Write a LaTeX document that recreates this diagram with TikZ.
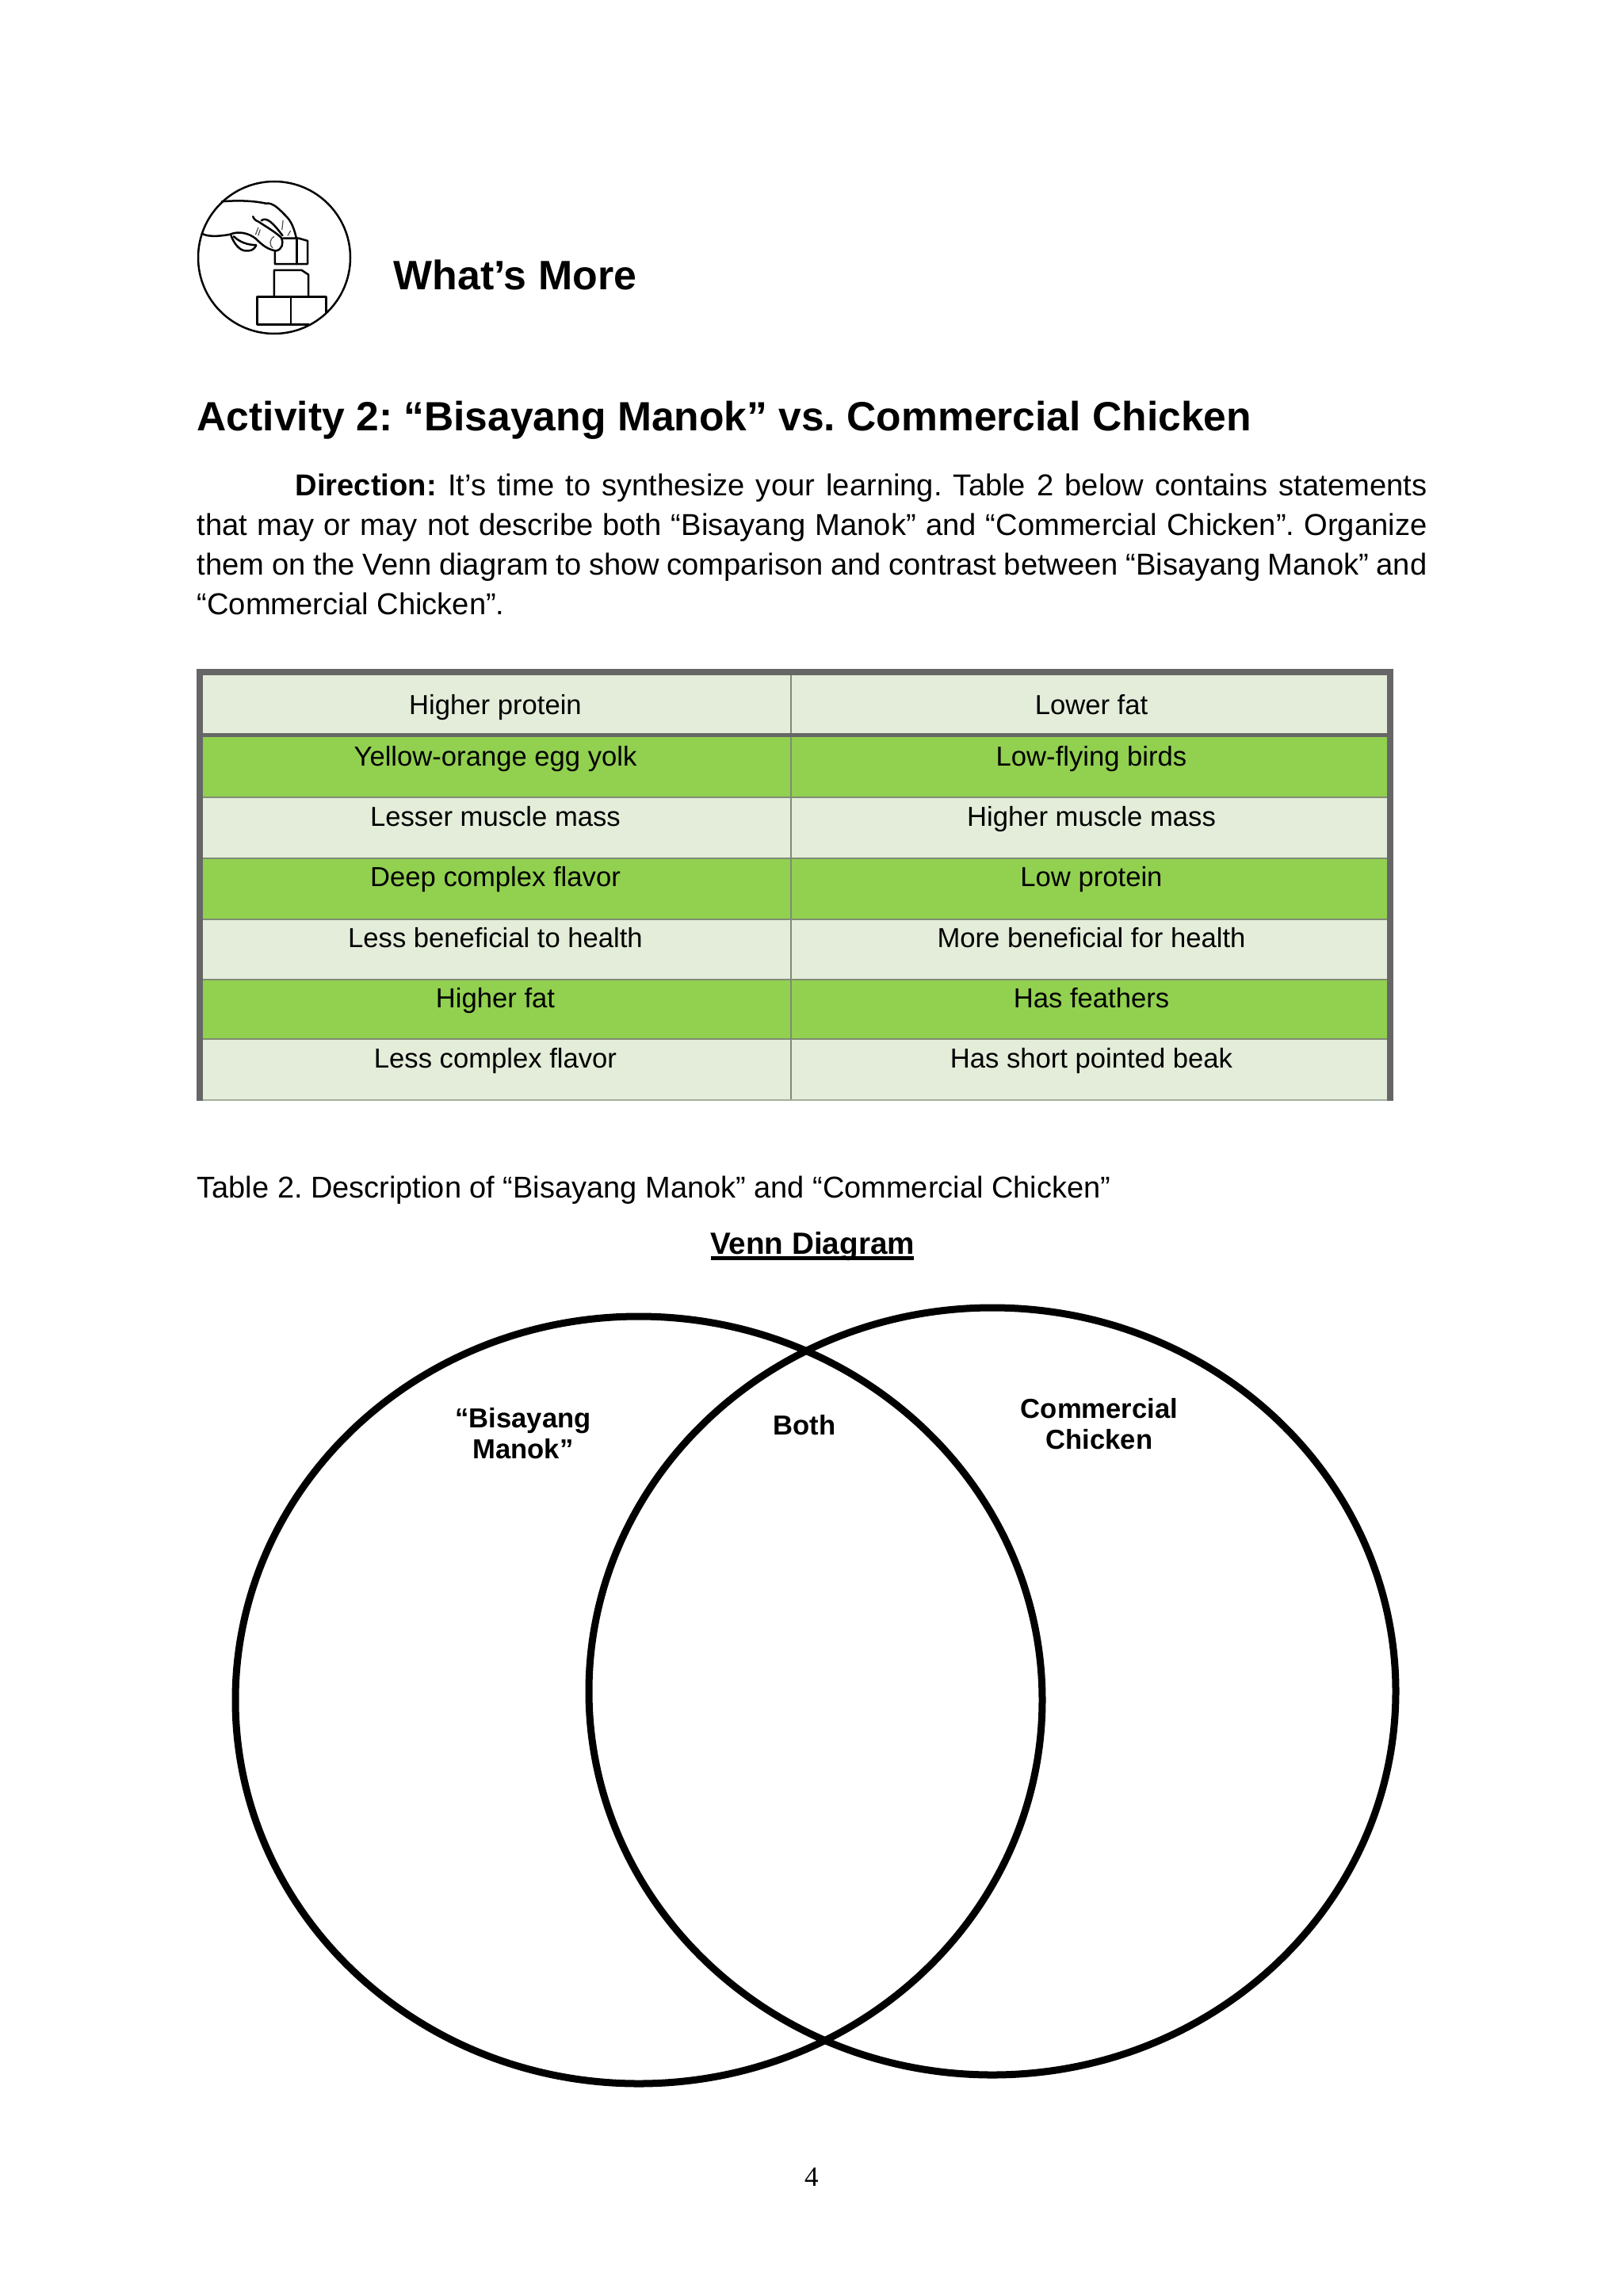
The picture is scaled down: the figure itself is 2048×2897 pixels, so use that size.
\documentclass[tikz,border=0pt]{standalone}
\usepackage{fontspec}
\setmainfont{Liberation Sans}
\newfontfamily\pagenumfont{Liberation Serif}
\definecolor{lightrow}{HTML}{E3EDD9}
\definecolor{darkrow}{HTML}{92D050}
\definecolor{tborder}{HTML}{666666}
\definecolor{tline}{HTML}{7F8C75}
\newcommand{\fs}[1]{\frenchspacing\fontsize{#1pt}{1.2\dimexpr#1pt\relax}\selectfont}
\tikzset{
  x=0.01cm,y=-0.01cm,
  celltext/.style={anchor=base,inner sep=0pt,font=\fs{9.85}},
  venntext/.style={anchor=base,inner sep=0pt,align=center,font=\fs{9.85}\bfseries},
  venncircle/.style={draw=black,line width=0.09cm},
  icon/.style={draw=black,line width=0.025cm,line join=round,line cap=round},
  iconthin/.style={draw=black!70,line width=0.012cm,line cap=round},
}
\begin{document}
\begin{tikzpicture}
\useasboundingbox (0,0) rectangle (2048,2897);
\fill[white] (0,0) rectangle (2048,2897);
% icon
\draw[icon] (346,325) circle [x radius=96,y radius=96];
\begin{scope}[shift={(220,210)},x=0.003333cm,y=-0.003333cm]
\draw[icon] (180,133) .. controls (240,128) and (300,130) .. (345,140) .. controls (375,135) and (400,165) .. (425,190) .. controls (445,210) and (455,240) .. (462,270);
\draw[icon] (105,255) .. controls (130,268) and (170,265) .. (210,258) .. controls (240,245) and (280,250) .. (310,275) .. controls (335,300) and (355,315) .. (385,320) .. controls (410,315) and (415,290) .. (405,270) .. controls (385,250) and (350,230) .. (320,210) .. controls (305,205) and (300,195) .. (298,190);
\draw[icon] (215,262) .. controls (225,290) and (245,318) .. (270,320) .. controls (290,320) and (300,318) .. (310,300);
\draw[icon] (225,265) .. controls (245,285) and (275,298) .. (310,298);
\draw[icon] (330,205) .. controls (350,190) and (375,215) .. (410,262);
\draw[iconthin] (318,232) -- (308,258) (325,240) -- (318,262);
\draw[iconthin] (378,265) .. controls (360,275) and (360,300) .. (372,308);
\draw[iconthin] (412,205) -- (408,240) (440,245) -- (430,262);
% blocks
\draw[icon] (412,272) -- (470,272) -- (505,282) -- (505,370) -- (381,370) -- (381,320);
\draw[icon] (464,272) -- (464,370);
\draw[icon] (378,493) -- (378,393) -- (482,393) -- (508,410) -- (508,493);
\draw[icon] (314,495) rectangle (442,600);
\draw[icon] (442,495) -- (576,495) -- (576,555);
\draw[icon] (442,600) -- (510,600);
\end{scope}
% headings
\node[anchor=base west,inner sep=0pt,font=\fs{14.75}\bfseries] (more) at (496,365) {What’s More};
\node[anchor=base west,inner sep=0pt,font=\fs{14.67}\bfseries] (title) at (248,543) {Activity 2: “Bisayang Manok” vs. Commercial Chicken};
\node[anchor=north west,inner sep=0pt,text width=15.51cm,align=justify,font=\fs{10.85}] (dir) at (248,597)
 {\baselineskip=0.5cm\hspace*{1.24cm}\textbf{Direction:} It’s time to synthesize your learning. Table 2 below contains statements\linebreak
 that may or may not describe both “Bisayang Manok” and “Commercial Chicken”. Organize\linebreak
 them on the Venn diagram to show comparison and contrast between “Bisayang Manok” and\linebreak
 “Commercial Chicken”.\par};
% table rows
\fill[lightrow] (252,848) rectangle (1754,928);
\fill[darkrow] (252,928) rectangle (1754,1006);
\fill[lightrow] (252,1006) rectangle (1754,1083);
\fill[darkrow] (252,1083) rectangle (1754,1160);
\fill[lightrow] (252,1160) rectangle (1754,1236);
\fill[darkrow] (252,1236) rectangle (1754,1311);
\fill[lightrow] (252,1311) rectangle (1754,1388);
\draw[tline,line width=0.014cm] (252,1006) -- (1754,1006) (252,1083) -- (1754,1083) (252,1160) -- (1754,1160) (252,1236) -- (1754,1236) (252,1311) -- (1754,1311) (998,850) -- (998,1388);
\draw[tline!70,line width=0.02cm] (252,1388) -- (1754,1388);
\fill[tborder] (248,844) rectangle (1758,852);
\fill[tborder] (252,925) rectangle (1754,930);
\fill[tborder] (248,844) rectangle (256,1389);
\fill[tborder] (1750,844) rectangle (1758,1389);
% table text
\node[celltext] (a1) at (625,901) {Higher protein};
\node[celltext] (b1) at (1377,901) {Lower fat};
\node[celltext] (a2) at (625,966) {Yellow-orange egg yolk};
\node[celltext] (b2) at (1377,966) {Low-flying birds};
\node[celltext] (a3) at (625,1042) {Lesser muscle mass};
\node[celltext] (b3) at (1377,1042) {Higher muscle mass};
\node[celltext] (a4) at (625,1118) {Deep complex flavor};
\node[celltext] (b4) at (1377,1118) {Low protein};
\node[celltext] (a5) at (625,1195) {Less beneficial to health};
\node[celltext] (b5) at (1377,1195) {More beneficial for health};
\node[celltext] (a6) at (625,1271) {Higher fat};
\node[celltext] (b6) at (1377,1271) {Has feathers};
\node[celltext] (a7) at (625,1347) {Less complex flavor};
\node[celltext] (b7) at (1377,1347) {Has short pointed beak};
% caption
\node[anchor=base west,inner sep=0pt,font=\fs{10.8}] (cap) at (248,1511) {Table 2. Description of “Bisayang Manok” and “Commercial Chicken”};
\node[anchor=base,inner sep=0pt,font=\fs{11}\bfseries] (venn) at (1025,1582) {Venn Diagram};
\fill[black] (897,1585) rectangle (1153,1590);
% venn
\draw[venncircle] (806,2145) circle [x radius=509,y radius=484];
\draw[venncircle] (1252,2134) circle [x radius=509,y radius=484];
\node[venntext] (l) at (660,1840) {“Bisayang\\[-0.03cm]Manok”};
\node[venntext] (m) at (1015,1810) {Both};
\node[venntext] (r) at (1387,1828) {Commercial\\[-0.03cm]Chicken};
% page number
\node[anchor=base,inner sep=0pt,font=\fs{10}\pagenumfont] (pg) at (1024,2758) {4};
\end{tikzpicture}
\end{document}
